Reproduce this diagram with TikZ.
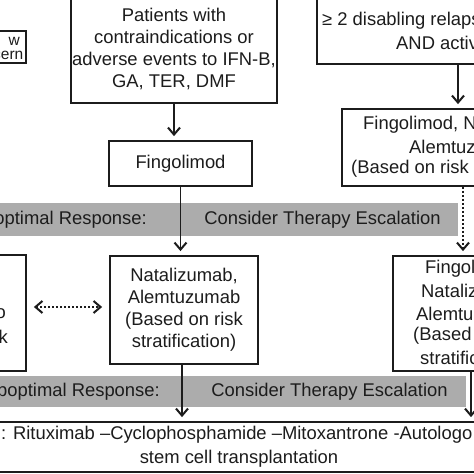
\documentclass[tikz,border=0pt]{standalone}
\usepackage{fontspec}
\setmainfont{Liberation Sans}
\usepackage{tikz}
\usetikzlibrary{arrows.meta}
\definecolor{band}{RGB}{172,172,172}
\definecolor{ink}{RGB}{28,28,28}
\tikzstyle{chart}=[x=1pt, y=-1pt, font=\fontsize{18.4}{22}\selectfont, text=ink]
\tikzstyle{box}=[draw=ink, line width=1.8pt, fill=white, inner sep=0pt, align=center]
\tikzstyle{bar}=[fill=band, draw=none, inner sep=0pt]
\tikzstyle{txt}=[inner sep=0pt]
\tikzstyle{small}=[inner sep=0pt, font=\fontsize{15.5}{17}\selectfont]
\tikzstyle{edge}=[draw=ink, line width=1.8pt, shorten >=4pt, -{Straight Barb[length=7pt,width=12pt,line width=2pt]}]
\tikzstyle{dotedge}=[edge, line width=2pt, dash pattern=on 2pt off 2pt]

\begin{document}
\begin{tikzpicture}[chart]
	\useasboundingbox (0,0) rectangle (474,474);
	\clip (0,0) rectangle (474,474);
	% grey bands
	\draw (224,219.5) node[bar, minimum width=468pt, minimum height=33pt] (band1) {};
	\draw (228,391.5) node[bar, minimum width=476pt, minimum height=31pt] (band2) {};
	\draw (147,220) node[txt, anchor=east] (sub1) {optimal Response:};
	\draw (322.5,220) node[txt] (esc1) {Consider Therapy Escalation};
	\draw (160,392) node[txt, anchor=east] (sub2) {boptimal Response:};
	\draw (329.5,392) node[txt] (esc2) {Consider Therapy Escalation};
	% boxes
	\draw (-7,47) node[box, minimum width=66pt, minimum height=32pt] (legend) {};
	\draw (20,41) node[small, anchor=east] (leg1) {w};
	\draw (23.5,55) node[small, anchor=east] (leg2) {cern};
	\draw (174,49.5) node[box, minimum width=206pt, minimum height=107pt] (top) {Patients with\\contraindications or\\adverse events to IFN-B,\\GA, TER, DMF};
	\draw (180.5,163.5) node[box, minimum width=143pt, minimum height=45pt] (fing) {Fingolimod};
	\draw (184,310) node[box, minimum width=148pt, minimum height=108pt] (nat) {Natalizumab,\\Alemtuzumab\\(Based on risk\\stratification)};
	\draw (-37,313) node[box, minimum width=126pt, minimum height=116pt] (lbox) {};
	\draw (6,314) node[txt, anchor=east] (lbox1) {o};
	\draw (8,337) node[txt, anchor=east] (lbox2) {k};
	\draw (473.5,17) node[box, minimum width=313pt, minimum height=94pt] (rtop) {};
	\draw (322,21) node[txt, anchor=west] (rtop1) {≥ 2 disabling relaps};
	\draw (396,43) node[txt, anchor=west] (rtop2) {AND activ};
	\draw (471,147.5) node[box, minimum width=258pt, minimum height=77pt] (rmid) {};
	\draw (363,125) node[txt, anchor=west] (rmid1) {Fingolimod, N};
	\draw (409,147) node[txt, anchor=west] (rmid2) {Alemtuz};
	\draw (351,169) node[txt, anchor=west] (rmid3) {(Based on risk};
	\draw (476.5,313.5) node[box, minimum width=167pt, minimum height=115pt] (rlow) {};
	\draw (425,269) node[txt, anchor=west] (rlow1) {Fingol};
	\draw (421,291) node[txt, anchor=west] (rlow2) {Nataliz};
	\draw (416,314) node[txt, anchor=west] (rlow3) {Alemtu};
	\draw (413,336) node[txt, anchor=west] (rlow4) {(Based};
	\draw (420,358) node[txt, anchor=west] (rlow5) {stratific};
	\draw (240,447) node[box, minimum width=520pt, minimum height=50pt] (bottom) {};
	\draw (1,435) node[txt, anchor=west] (bot1) {: Rituximab --Cyclophosphamide --Mitoxantrone -Autologo};
	\draw (239,459) node[txt] (bot2) {stem cell transplantation};
	% arrows
	\draw[edge] (top.south) -- (top.south |- fing.north);
	\draw[edge] (fing.south) -- (fing.south |- nat.north);
	\draw[edge] ([xshift=-2pt]nat.south) -- ([xshift=-2pt]nat.south |- bottom.north);
	\draw[edge] ([xshift=-15.5pt]rtop.south) -- ([xshift=-13pt]rmid.north);
	\draw[dotedge] ([xshift=-8pt]rmid.south) -- ([xshift=-13.5pt]rlow.north);
	\draw[edge] ([xshift=-5.5pt]rlow.south) -- ([xshift=231pt]bottom.north);
	\draw[dotedge, shorten <=7pt, shorten >=7pt, {Straight Barb[length=7pt,width=12pt,line width=2pt]}-{Straight Barb[length=7pt,width=12pt,line width=2pt]}] ([yshift=6pt]lbox.east) -- ([yshift=3pt]nat.west);
\end{tikzpicture}
\end{document}
